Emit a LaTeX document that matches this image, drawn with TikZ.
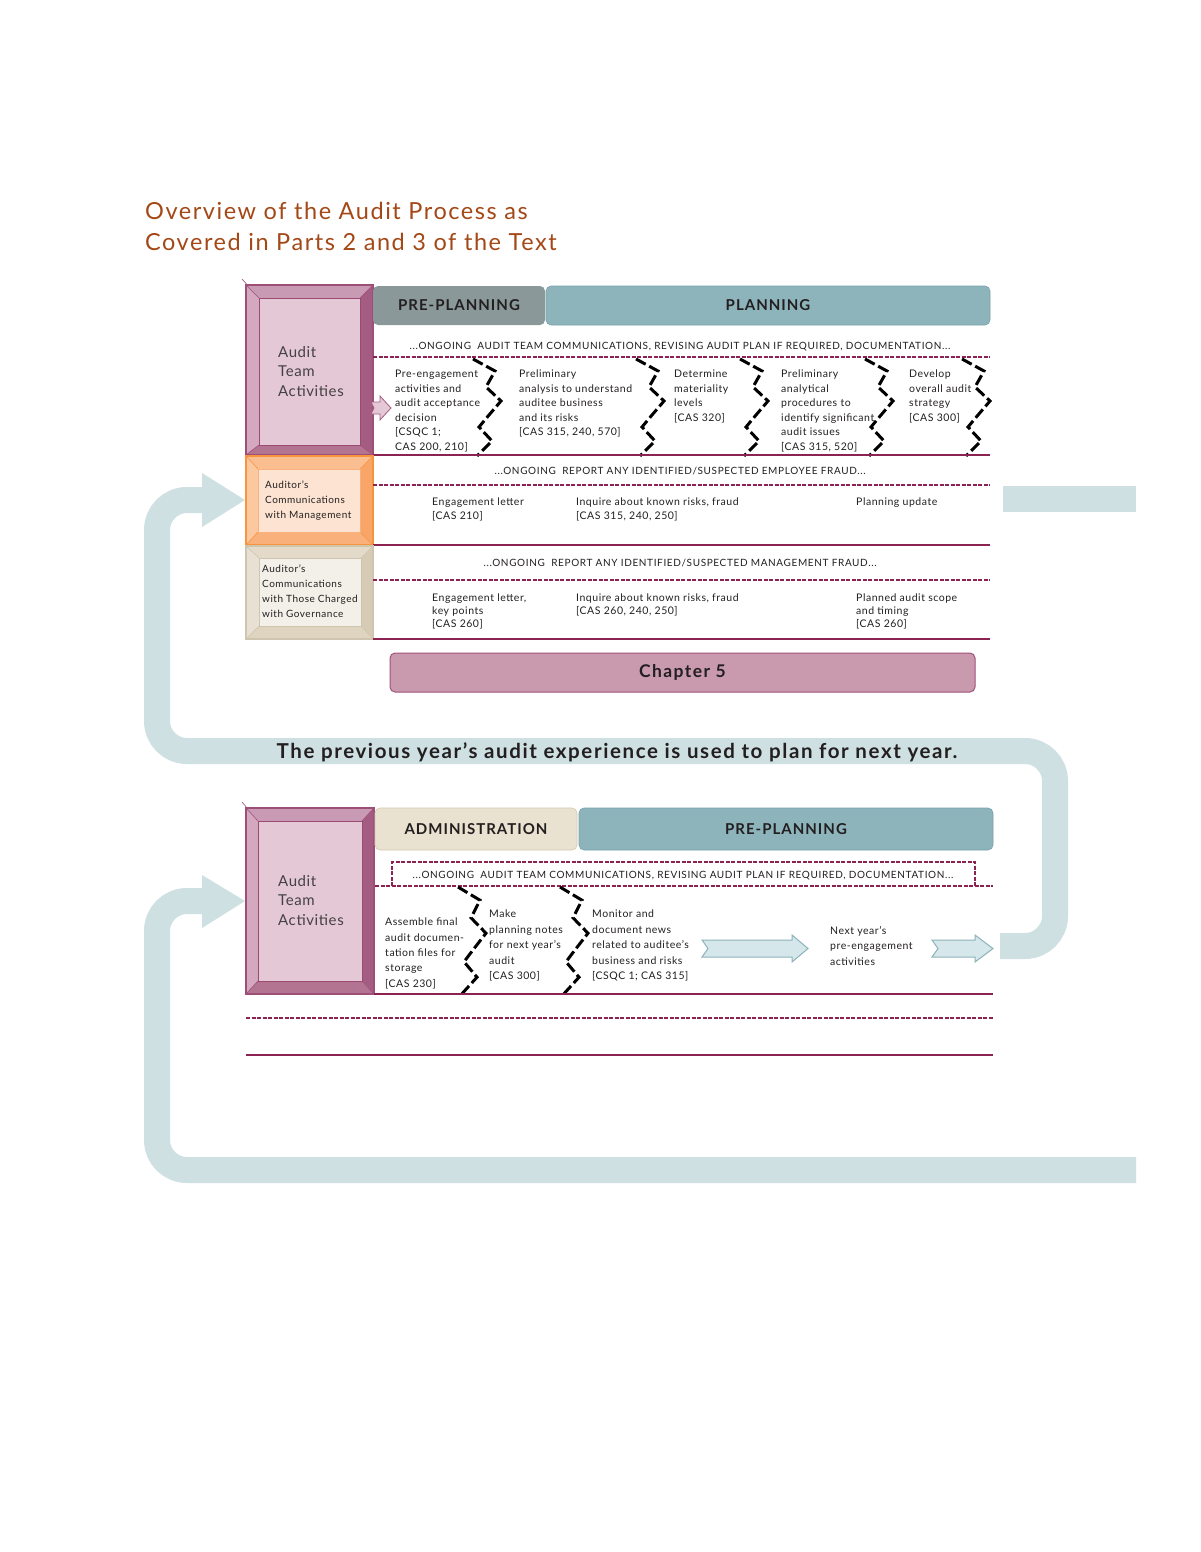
\documentclass[tikz,border=0pt]{standalone}
\usepackage{fontspec}
\setmainfont{Lato}
\definecolor{titlec}{RGB}{163,72,22}
\definecolor{mag}{RGB}{139,34,82}
\definecolor{loopc}{RGB}{207,224,226}
\definecolor{hdrgray}{RGB}{138,152,154}
\definecolor{hdrteal}{RGB}{141,180,187}
\definecolor{hdrtealE}{RGB}{120,162,170}
\definecolor{hdrbeige}{RGB}{233,226,208}
\definecolor{hdrbeigeE}{RGB}{211,201,176}
\definecolor{chapc}{RGB}{201,154,174}
\definecolor{chapE}{RGB}{160,82,122}
\definecolor{txt}{RGB}{35,31,32}
\definecolor{arrfill}{RGB}{213,231,234}
\definecolor{arredge}{RGB}{140,179,186}
\definecolor{bvT}{RGB}{201,154,179}
\definecolor{bvL}{RGB}{212,169,191}
\definecolor{bvR}{RGB}{165,92,130}
\definecolor{bvB}{RGB}{179,116,146}
\definecolor{bvE}{RGB}{158,79,120}
\definecolor{bvIE}{RGB}{155,74,114}
\definecolor{bvIn}{RGB}{229,200,214}
\newcommand\bevelbox[8]{%
 \fill[bvT] (#1,#2) -- (#3,#2) -- (#7,#6) -- (#5,#6) -- cycle;
 \fill[bvL] (#1,#2) -- (#5,#6) -- (#5,#8) -- (#1,#4) -- cycle;
 \fill[bvR] (#3,#2) -- (#3,#4) -- (#7,#8) -- (#7,#6) -- cycle;
 \fill[bvB] (#1,#4) -- (#5,#8) -- (#7,#8) -- (#3,#4) -- cycle;
 \draw[bvE, line width=0.6pt] (#1,#2) -- (#5,#6) (#3,#2) -- (#7,#6) (#1,#4) -- (#5,#8) (#3,#4) -- (#7,#8);
 \draw[draw=bvIE, fill=bvIn, line width=1pt] (#5,#6) rectangle (#7,#8);
 \draw[bvE, line width=1.3pt] (#1,#2) rectangle (#3,#4);
}
\newcommand\fsz[3]{\fontsize{#1}{#2}\selectfont\addfontfeature{LetterSpace=#3}}
\begin{document}
\begin{tikzpicture}[x=1pt,y=-1pt,
  title/.style={font=\fsz{23.5}{28}{6.6}, text=titlec, inner sep=0pt},
  hdr/.style={font=\bfseries\fsz{15}{18}{6.7}, text=txt, rounded corners=5pt, minimum height=39pt, inner sep=0pt},
  ong/.style={font=\fsz{10}{11}{6.4}, text=txt, inner sep=0pt},
  sm/.style={font=\fsz{10.5}{14.5}{5}, text=txt, align=left, anchor=north west, inner sep=0pt},
  smb/.style={font=\fsz{10}{15}{5}, text=txt, align=left, anchor=north west, inner sep=0pt},
  ata/.style={font=\fsz{15}{19.5}{4}, text=txt!85, align=left, anchor=north west, inner sep=0pt},
  magline/.style={draw=mag, line width=2.2pt},
  dashline/.style={draw=mag, line width=1.6pt, dash pattern=on 4pt off 1.5pt},
  zigline/.style={draw=black, line width=3pt, dash pattern=on 11pt off 4pt},
  band/.style={draw=loopc, line width=26pt, rounded corners=30pt},
  blockarrow/.style={draw=arredge, fill=arrfill, line width=1pt},
  pics/zz/.style={code={\draw[zigline] (0,0) -- (22,12) -- (13,28) -- (28,42) -- (16,56) -- (6,68) -- (19,82) -- (4,97);}}
]
\useasboundingbox (0,0) rectangle (1200,1552);
\fill[white] (0,0) rectangle (1200,1552);

% ---------- loop bands ----------
\draw[band] (1000,946) -- (1055,946) -- (1055,751) -- (157,751) -- (157,500) -- (206,500);
\fill[loopc] (202,473) -- (245,500) -- (202,527) -- cycle;
\fill[loopc] (1003,486) rectangle (1136,512);
\draw[band] (1136,1170) -- (157,1170) -- (157,901) -- (206,901);
\fill[loopc] (202,875) -- (245,901) -- (202,928) -- cycle;

% ---------- title ----------
\node[title, anchor=base west] (t1) at (145,219) {Overview of the Audit Process as};
\node[title, anchor=base west] (t2) at (145,250) {Covered in Parts 2 and 3 of the Text};

% ---------- top block ----------
\draw[bvE, line width=0.6pt] (242,279) -- (259,298);
\bevelbox{246}{285}{373}{455}{259}{298}{360}{445}
\node[ata] (ata1) at (278,346) {Audit\\Team\\Activities};
\draw[draw=bvR, fill=bvIn, line width=0.8pt] (371,402) -- (380,402) -- (380,396) -- (391,408) -- (380,420) -- (380,414) -- (371,414) -- (374,408) -- cycle;

\node[hdr, fill=hdrgray, minimum width=172pt] (pp1) at (459,305.5) {PRE-PLANNING};
\node[hdr, fill=hdrteal, draw=hdrtealE, line width=0.6pt, minimum width=444pt] (pl1) at (768,305.5) {PLANNING};

\node[ong] (ong1) at (680,347) {...ONGOING\ \ AUDIT TEAM COMMUNICATIONS, REVISING AUDIT PLAN IF REQUIRED, DOCUMENTATION...};
\draw[dashline] (373,357) -- (990,357);
\node[sm] (c11) at (395,370) {Pre-engagement\\activities and\\audit acceptance\\decision\\{[}CSQC 1;\\CAS 200, 210]};
\node[sm] (c12) at (519,370) {Preliminary\\analysis to understand\\auditee business\\and its risks\\{[}CAS 315, 240, 570]};
\node[sm] (c13) at (674,370) {Determine\\materiality\\levels\\{[}CAS 320]};
\node[sm] (c14) at (781,370) {Preliminary\\analytical\\procedures to\\identify significant\\audit issues\\{[}CAS 315, 520]};
\node[sm] (c15) at (909,370) {Develop\\overall audit\\strategy\\{[}CAS 300]};
\pic at (473,359) {zz};
\pic at (636,359) {zz};
\pic at (740,359) {zz};
\pic at (865,359) {zz};
\pic at (962,359) {zz};
\draw[magline] (373,455) -- (990,455);

% ---------- row 2: management ----------
\definecolor{bvT}{RGB}{251,190,145}
\definecolor{bvL}{RGB}{252,200,160}
\definecolor{bvR}{RGB}{249,165,104}
\definecolor{bvB}{RGB}{250,176,122}
\definecolor{bvE}{RGB}{247,148,62}
\definecolor{bvIE}{RGB}{249,178,127}
\definecolor{bvIn}{RGB}{253,228,210}
\bevelbox{246}{456}{373}{545}{258}{469}{360}{532}
\draw[bvE, line width=2.2pt] (246,456) rectangle (373,545);
\node[smb] (om) at (265,481) {Auditor’s\\Communications\\with Management};
\node[ong] (ong2) at (680,471) {...ONGOING\ \ REPORT ANY IDENTIFIED/SUSPECTED EMPLOYEE FRAUD...};
\draw[dashline] (373,485) -- (990,485);
\node[sm, font=\fsz{10.5}{14}{5}] (m1) at (432,498) {Engagement letter\\{[}CAS 210]};
\node[sm, font=\fsz{10.5}{14}{5}] (m2) at (576,498) {Inquire about known risks, fraud\\{[}CAS 315, 240, 250]};
\node[sm] (m3) at (856,498) {Planning update};
\draw[magline] (373,545) -- (990,545);

% ---------- row 3: governance ----------
\definecolor{bvT}{RGB}{227,218,202}
\definecolor{bvL}{RGB}{232,225,211}
\definecolor{bvR}{RGB}{214,203,180}
\definecolor{bvB}{RGB}{222,212,192}
\definecolor{bvE}{RGB}{207,196,174}
\definecolor{bvIE}{RGB}{207,196,174}
\definecolor{bvIn}{RGB}{243,240,233}
\bevelbox{246}{546}{373}{639}{259}{558}{361}{626}
\node[smb] (og) at (262,565) {Auditor’s\\Communications\\with Those Charged\\with Governance};
\node[ong] (ong3) at (680,563) {...ONGOING\ \ REPORT ANY IDENTIFIED/SUSPECTED MANAGEMENT FRAUD...};
\draw[dashline] (373,580) -- (990,580);
\node[sm, font=\fsz{10.5}{13}{5}] (g1) at (432,594) {Engagement letter,\\key points\\{[}CAS 260]};
\node[sm, font=\fsz{10.5}{13}{5}] (g2) at (576,594) {Inquire about known risks, fraud\\{[}CAS 260, 240, 250]};
\node[sm, font=\fsz{10.5}{13}{5}] (g3) at (856,594) {Planned audit scope\\and timing\\{[}CAS 260]};
\draw[magline] (373,639) -- (990,639);

% ---------- chapter 5 ----------
\node[draw=chapE, fill=chapc, line width=1pt, rounded corners=5pt, minimum width=585pt, minimum height=39pt, font=\bfseries\fsz{17.5}{20}{8}, text=txt] (ch5) at (682.5,672.5) {Chapter 5};

% ---------- sentence ----------
\node[font=\bfseries\fsz{20.5}{23}{7.8}, text=txt, inner sep=0pt] (sent) at (617,752) {The previous year’s audit experience is used to plan for next year.};

% ---------- bottom block ----------
\definecolor{bvT}{RGB}{201,154,179}
\definecolor{bvL}{RGB}{212,169,191}
\definecolor{bvR}{RGB}{165,92,130}
\definecolor{bvB}{RGB}{179,116,146}
\definecolor{bvE}{RGB}{158,79,120}
\definecolor{bvIE}{RGB}{155,74,114}
\definecolor{bvIn}{RGB}{229,200,214}
\draw[bvE, line width=0.6pt] (242,802) -- (258,821);
\bevelbox{246}{808}{374}{994}{258}{821}{362}{981}
\node[ata] (ata2) at (278,875) {Audit\\Team\\Activities};

\node[hdr, fill=hdrbeige, draw=hdrbeigeE, line width=0.6pt, minimum width=202pt, minimum height=42pt] (adm) at (476,829) {ADMINISTRATION};
\node[hdr, fill=hdrteal, draw=hdrtealE, line width=0.6pt, minimum width=414pt, minimum height=42pt] (pp2) at (786,829) {PRE-PLANNING};

\draw[dashline] (392,886) -- (392,862) -- (975,862) -- (975,886);
\draw[dashline] (375,886) -- (993,886);
\node[ong] (ong4) at (683,876) {...ONGOING\ \ AUDIT TEAM COMMUNICATIONS, REVISING AUDIT PLAN IF REQUIRED, DOCUMENTATION...};

\node[sm, font=\fsz{10.5}{15.3}{5}] (b1) at (385,918) {Assemble final\\audit documen-\\tation files for\\storage\\{[}CAS 230]};
\node[sm, font=\fsz{10.5}{15.5}{5}] (b2) at (489,910) {Make\\planning notes\\for next year’s\\audit\\{[}CAS 300]};
\node[sm, font=\fsz{10.5}{15.5}{5}] (b3) at (592,910) {Monitor and\\document news\\related to auditee’s\\business and risks\\{[}CSQC 1; CAS 315]};
\node[sm, font=\fsz{10.5}{15.5}{5}] (b4) at (830,926) {Next year’s\\pre-engagement\\activities};
\pic[yscale=1.1] at (458,887) {zz};
\pic[yscale=1.1] at (560,887) {zz};

\draw[blockarrow] (702,940) -- (792,940) -- (792,935) -- (808,948.5) -- (792,962) -- (792,957) -- (702,957) -- (708,948.5) -- cycle;
\draw[blockarrow] (932,940) -- (975,940) -- (975,935) -- (993,948.5) -- (975,962) -- (975,957) -- (932,957) -- (938,948.5) -- cycle;

\draw[magline] (374,994) -- (993,994);
\draw[dashline] (246,1018) -- (993,1018);
\draw[magline] (246,1055) -- (993,1055);
\end{tikzpicture}
\end{document}
